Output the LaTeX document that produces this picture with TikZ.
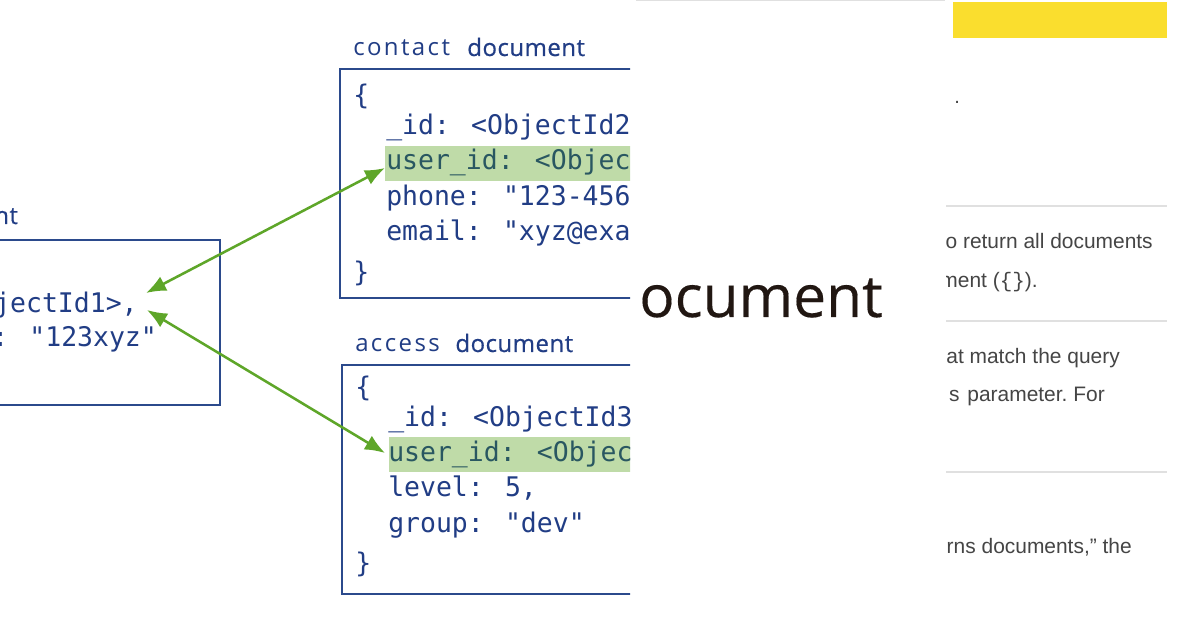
\documentclass[tikz,border=0pt]{standalone}
\usepackage{fontspec}
\setmainfont{Liberation Sans}
\newfontfamily\codefont{DejaVu Sans Mono}[FakeStretch=0.98]
\newfontfamily\bracefont{Liberation Mono}
\newfontfamily\headfont{Open Sans}[LetterSpace=10]
\newfontfamily\headbold{Open Sans}[FakeBold=0.5, LetterSpace=2]
\newfontfamily\bigfont{Open Sans}[FakeBold=0.25]
\usetikzlibrary{arrows.meta}
\definecolor{mnavy}{rgb}{0.13, 0.24, 0.52}
\definecolor{mline}{rgb}{0.17, 0.29, 0.55}
\definecolor{mteal}{rgb}{0.16, 0.34, 0.38}
\definecolor{mgreen}{rgb}{0.37, 0.65, 0.16}
\definecolor{mbar}{rgb}{0.75, 0.86, 0.66}
\definecolor{myellow}{rgb}{0.98, 0.87, 0.18}
\definecolor{mrule}{rgb}{0.88, 0.88, 0.88}
\definecolor{mbody}{rgb}{0.27, 0.27, 0.27}
\definecolor{mbig}{rgb}{0.13, 0.09, 0.07}
\tikzset{
  code/.style={anchor=base west, inner sep=0, text=mnavy, font=\codefont\fontsize{20.25}{24}\selectfont},
  barcode/.style={code, text=mteal},
  head/.style={anchor=base west, inner sep=0, text=mnavy, font=\headfont\fontsize{18}{22}\selectfont},
  body/.style={anchor=base east, inner sep=0, text=mbody, font=\frenchspacing\fontsize{15.7}{18}\selectfont},
  docbox/.style={draw=mline, line width=1.1pt, fill=none},
  link/.style={mgreen, line width=1.9pt, {Latex[length=15pt, width=12pt]}-{Latex[length=15pt, width=12pt]}},
}
\begin{document}
\begin{tikzpicture}[x=0.75pt, y=-0.75pt]
  \useasboundingbox (0, 0) rectangle (1200, 630);
  \fill [white] (0, 0) rectangle (1200, 630);

  % left part, cut at both sides
  \begin{scope}
    \clip (0, 0) rectangle (630, 630);
    \fill [mbar] (385, 146) rectangle (640, 181);
    \fill [mbar] (389, 437) rectangle (640, 472);
    \draw [docbox] (-20, 240) rectangle (220, 405);
    \draw [docbox] (340, 69) rectangle (660, 298);
    \draw [docbox] (342, 365) rectangle (660, 594);

    \node [head] (userhead) at (-6, 224) {\headbold nt};
    \node [code] (userid) at (-6, 313) {jectId1>,};
    \node [code] (username) at (-8, 347) {: "123xyz"};

    \node [head] (contacthead) at (353, 56) {contact\hspace{0.72em}\headbold document};
    \node [code] (contactopen) at (353, 105) {\{};
    \node [code] (contactid) at (386, 135) {\_id: <ObjectId2};
    \node [barcode] (contactuser) at (386, 170) {user\_id: <Objec};
    \node [code] (contactphone) at (386, 206) {phone: "123-456};
    \node [code] (contactmail) at (386, 241) {email: "xyz@exa};
    \node [code] (contactclose) at (353, 282) {\}};

    \node [head] (accesshead) at (355, 352) {access\hspace{0.65em}\headbold document};
    \node [code] (accessopen) at (355, 397) {\{};
    \node [code] (accessid) at (388, 427) {\_id: <ObjectId3};
    \node [barcode] (accessuser) at (388, 462) {user\_id: <Objec};
    \node [code] (accesslevel) at (388, 497) {level: 5,};
    \node [code] (accessgroup) at (388, 533) {group: "dev"};
    \node [code] (accessclose) at (355, 573) {\}};

    \coordinate (userup) at (146, 293);
    \coordinate (userdown) at (147, 310);
    \coordinate (contactend) at (385, 168);
    \coordinate (accessend) at (385, 453);
    \draw [link] (userup) -- (contactend);
    \draw [link] (userdown) -- (accessend);
  \end{scope}

  % middle part
  \draw [mrule, line width=0.8pt] (636, 0.5) -- (945, 0.5);
  \node [anchor=base west, inner sep=0, text=mbig, font=\bigfont\fontsize{44}{52}\selectfont] (bigword) at (639, 317) {ocument};

  % right part
  \fill [myellow] (953, 2) rectangle (1167, 38);
  \node [anchor=base west, inner sep=0, text=mbody, font=\fontsize{15}{18}\selectfont] (dotmark) at (954, 104) {.};
  \draw [mrule, line width=0.8pt] (946, 206) -- (1167, 206);
  \draw [mrule, line width=0.8pt] (946, 321) -- (1167, 321);
  \draw [mrule, line width=0.8pt] (946, 472) -- (1167, 472);
  \begin{scope}
    \clip (946, 200) rectangle (1200, 630);
    \node [body] (lineone) at (1153, 249) {to return all documents};
    \node [body] (linetwo) at (1038, 288) {document ({\bracefont\{\}}).};
    \node [body] (linethree) at (1120, 364) {that match the query};
    \node [body] (linefour) at (1105, 402) {s\hspace{-1.5pt} \hspace{3pt}parameter. For};
    \node [body] (linefive) at (1132, 554) {returns documents,” the};
  \end{scope}
\end{tikzpicture}
\end{document}
